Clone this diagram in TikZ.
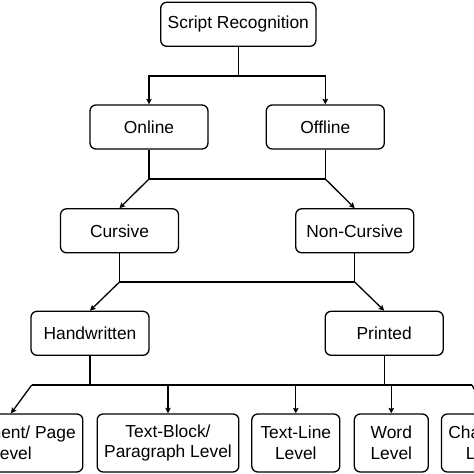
\documentclass[tikz,border=0pt]{standalone}
\usepackage{fontspec}
\setmainfont{Liberation Sans}
\usetikzlibrary{arrows.meta}

\tikzset{
  box/.style={draw, line width=1.3pt, rounded corners=6pt, align=center,
    inner xsep=7pt, minimum height=44pt,
    font=\fontsize{17.4}{20.7}\selectfont},
  mainbox/.style={box, minimum width=118pt},
  levelbox/.style={box, minimum height=58pt},
  link/.style={line width=1.3pt},
  >={Stealth[length=5.5pt,width=5.5pt,inset=1pt]}
}

\begin{document}
\begin{tikzpicture}[x=1pt, y=1pt]
    \useasboundingbox (0,0) rectangle (474,474);
    \clip (0,0) rectangle (474,474);

    % Top levels
    \node[box] (sr) at (238.3,449.7) {Script Recognition};
    \node[mainbox] (on) at (149,347) {Online};
    \node[mainbox] (off) at (325.3,347) {Offline};
    \node[mainbox] (cur) at (119.5,243.2) {Cursive};
    \node[mainbox] (ncur) at (354.7,243.2) {Non-Cursive};
    \node[mainbox] (hw) at (90,140.7) {Handwritten};
    \node[mainbox] (pr) at (384.2,140.7) {Printed};

    % Level boxes
    \node[levelbox] (doc) at (11,31) {Document/ Page\\Level};
    \node[levelbox] (tb) at (168,31) {Text-Block/\\Paragraph Level};
    \node[levelbox, minimum width=88pt] (tl) at (295.8,31) {Text-Line\\Level};
    \node[levelbox, minimum width=74pt] (wd) at (391.3,31) {Word\\Level};
    \node[levelbox, minimum width=88pt] (ch) at (486.6,31) {Character\\Level};

    % Junctions
    \coordinate (j1) at (238.3,398);
    \coordinate (j2l) at (149,295);
    \coordinate (j2r) at (325.3,295);
    \coordinate (j3l) at (119.5,192);
    \coordinate (j3r) at (354.7,192);
    \coordinate (j4l) at (31.7,89);
    \coordinate (j4r) at (472,89);

    % Connectors
    \draw[link] (sr.south) -- (j1);
    \draw[link, ->] (j1) -| (on.north);
    \draw[link, ->] (j1) -| (off.north);

    \draw[link] (on.south) -- (j2l) -- (j2r) -- (off.south);
    \draw[link, ->] (j2l) -- (cur.north);
    \draw[link, ->] (j2r) -- (ncur.north);

    \draw[link] (cur.south) -- (j3l) -- (j3r) -- (ncur.south);
    \draw[link, ->] (j3l) -- (hw.north);
    \draw[link, ->] (j3r) -- (pr.north);

    \draw[link] (hw.south) -- (hw.south |- j4l);
    \draw[link] (pr.south) -- (pr.south |- j4l);
    \draw[link] (j4l) -- (j4r);
    \draw[link, ->] (j4l) -- (doc.north);
    \draw[link, ->] (j4r) -- (ch.north);
    \draw[link, ->] (tb.north |- j4l) -- (tb.north);
    \draw[link, ->] (tl.north |- j4l) -- (tl.north);
    \draw[link, ->] (wd.north |- j4l) -- (wd.north);
\end{tikzpicture}
\end{document}
